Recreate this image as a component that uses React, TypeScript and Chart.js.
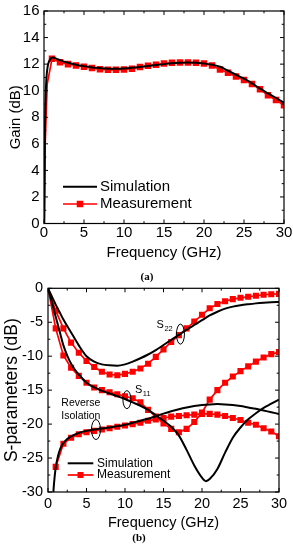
import React, { useEffect, useRef } from 'react';
import { Chart, registerables } from 'chart.js';

Chart.register(...registerables);

const SANS = '"Liberation Sans", Arial, Helvetica, sans-serif';
const RED = '#ff0000';
const BLACK = '#000000';

// ---------------- (a) Gain ----------------
const gainSimFreq = [0.03, 0.08, 0.12, 0.2, 0.3, 0.45, 0.7, 1.1, 1.6, 2, 3, 4, 5, 6, 7, 8, 9, 10, 11, 12, 13, 14, 15, 16, 17, 18, 19, 20, 21, 22, 23, 24, 25, 26, 27, 28, 29, 30];
const gainSimDb = [0, 4, 7, 9.5, 10.9, 11.8, 12.3, 12.5, 12.4, 12.3, 12.1, 11.95, 11.85, 11.75, 11.7, 11.66, 11.65, 11.67, 11.72, 11.78, 11.85, 11.93, 12.0, 12.06, 12.1, 12.12, 12.11, 12.05, 11.95, 11.8, 11.5, 11.2, 10.9, 10.55, 10.15, 9.8, 9.45, 9.1];
const gainMeasFreq = [0.03, 0.15, 0.4, 1, 2, 3, 4, 5, 6, 7, 8, 9, 10, 11, 12, 13, 14, 15, 16, 17, 18, 19, 20, 21, 22, 23, 24, 25, 26, 27, 28, 29, 30];
const gainMeasDb = [0, 6, 10.5, 12.4, 12.15, 12.0, 11.9, 11.8, 11.7, 11.62, 11.57, 11.57, 11.6, 11.66, 11.78, 11.87, 11.96, 12.04, 12.1, 12.12, 12.12, 12.1, 12.05, 11.9, 11.6, 11.35, 11.07, 10.8, 10.5, 10.1, 9.65, 9.3, 8.9];

// ---------------- (b) S-parameters ----------------
const s22SimFreq = [0, 0.5, 1, 1.5, 2, 3, 4, 5, 6, 7, 8, 9, 10, 11, 12, 13, 14, 15, 16, 17, 18, 19, 20, 21, 22, 23, 24, 25, 26, 27, 28, 29, 30];
const s22SimDb = [0, -1.2, -2.4, -3.5, -4.6, -6.5, -8.4, -10.0, -10.8, -11.2, -11.35, -11.4, -11.2, -10.8, -10.3, -9.75, -9.1, -8.35, -7.6, -6.85, -6.1, -5.4, -4.7, -4.0, -3.45, -3.0, -2.7, -2.5, -2.35, -2.22, -2.12, -2.05, -2.0];
const s11SimFreq = [0, 0.5, 1, 1.5, 2, 2.5, 3, 3.5, 4, 5, 6, 7, 8, 9, 10, 11, 12, 13, 14, 15, 16, 17, 18, 19, 20, 20.5, 21, 22, 23, 24, 25, 26, 27, 28, 29, 30];
const s11SimDb = [0, -2.0, -4.2, -6.3, -8.4, -9.9, -11.1, -12.0, -12.7, -13.9, -14.6, -15.1, -15.5, -15.9, -16.3, -16.8, -17.3, -17.9, -18.7, -19.5, -20.4, -21.7, -23.8, -26.1, -27.9, -28.4, -28.1, -26.6, -24.2, -22.0, -20.5, -19.3, -18.4, -17.6, -17.0, -16.4];
const isoSimFreq = [0.6, 0.7, 0.8, 1, 1.3, 1.6, 2, 2.5, 3, 4, 5, 6, 7, 8, 9, 10, 11, 12, 13, 14, 15, 16, 17, 18, 19, 20, 21, 22, 23, 24, 25, 26, 27, 28, 29, 30];
const isoSimDb = [-32, -30, -28.5, -26.4, -24.7, -23.6, -22.8, -22.2, -21.8, -21.3, -21.0, -20.8, -20.65, -20.5, -20.3, -20.1, -19.8, -19.5, -19.2, -18.85, -18.45, -18.1, -17.8, -17.55, -17.35, -17.2, -17.1, -17.05, -17.1, -17.2, -17.35, -17.55, -17.75, -18.0, -18.25, -18.5];

const sMeasFreq = [0, 1, 2, 3, 4, 5, 6, 7, 8, 9, 10, 11, 12, 13, 14, 15, 16, 17, 18, 19, 20, 21, 22, 23, 24, 25, 26, 27, 28, 29, 30];
const s22MeasDb = [0, -3.3, -5.9, -8.0, -9.5, -10.7, -11.6, -12.3, -12.7, -12.8, -12.6, -12.3, -11.8, -11.1, -10.1, -9.0, -7.9, -6.9, -5.9, -4.9, -3.9, -2.95, -2.3, -1.9, -1.6, -1.4, -1.25, -1.1, -0.95, -0.88, -0.82];
const s11MeasDb = [0, -5.9, -9.9, -11.7, -12.9, -13.9, -14.6, -15.0, -15.3, -15.6, -15.9, -16.2, -16.8, -17.9, -18.9, -19.9, -20.7, -21.2, -20.7, -19.7, -18.3, -16.4, -15.0, -13.9, -13.0, -12.2, -11.5, -10.8, -10.2, -9.7, -9.4];
const isoMeasFreq = [1, 2, 3, 4, 5, 6, 7, 8, 9, 10, 11, 12, 13, 14, 15, 16, 17, 18, 19, 20, 21, 22, 23, 24, 25, 26, 27, 28, 29, 30];
const isoMeasDb = [-26.3, -22.9, -22.0, -21.5, -21.2, -21.0, -20.8, -20.6, -20.4, -20.2, -20.0, -19.8, -19.5, -19.3, -19.1, -18.9, -18.8, -18.7, -18.6, -18.5, -18.5, -18.6, -18.8, -19.1, -19.4, -19.8, -20.1, -20.6, -21.1, -21.8];

// annotation anchors (data units)
const sLabels = [
  { main: 'S', sub: '22', f: 14.1, db: -5.85 },
  { main: 'S', sub: '11', f: 11.3, db: -15.35 },
];
const sTextLines = [
  { text: 'Reverse', f: 1.73, db: -17.27 },
  { text: 'Isolation', f: 1.73, db: -19.25 },
];
const sEllipses = [
  { f: 17.2, db: -6.75, rx: 4, ry: 10 },
  { f: 10.25, db: -16.4, rx: 4, ry: 9 },
  { f: 6.23, db: -20.8, rx: 4.5, ry: 10 },
];

const zip = (xs: number[], ys: number[]) => xs.map((x, i) => ({ x, y: ys[i] }));

const framePlugin = {
  id: 'frame',
  afterDraw(chart: any, _a: any, o: any) {
    const { ctx, chartArea } = chart;
    const { left, right, top, bottom } = chartArea;
    const xs = chart.scales.x;
    const ys = chart.scales.y;
    ctx.save();
    ctx.strokeStyle = '#000';
    ctx.lineWidth = 1.2;
    ctx.strokeRect(left, top, right - left, bottom - top);
    ctx.beginPath();
    ctx.lineWidth = 1;
    for (let v = xs.min; v <= xs.max + 1e-9; v += o.xMinor) {
      const major = Math.abs(v / o.xMajor - Math.round(v / o.xMajor)) < 1e-6;
      const L = major ? 4 : 2.3;
      const px = xs.getPixelForValue(v);
      ctx.moveTo(px, bottom); ctx.lineTo(px, bottom - L);
      ctx.moveTo(px, top); ctx.lineTo(px, top + L);
    }
    for (let v = ys.min; v <= ys.max + 1e-9; v += o.yMinor) {
      const major = Math.abs(v / o.yMajor - Math.round(v / o.yMajor)) < 1e-6;
      const L = major ? 4 : 2.3;
      const py = ys.getPixelForValue(v);
      ctx.moveTo(left, py); ctx.lineTo(left + L, py);
      ctx.moveTo(right, py); ctx.lineTo(right - L, py);
    }
    ctx.stroke();
    ctx.restore();
  },
};

const legendPlugin = {
  id: 'inLegend',
  afterDraw(chart: any, _a: any, o: any) {
    if (!o || !o.items) return;
    const ctx = chart.ctx;
    ctx.save();
    o.items.forEach((it: any, i: number) => {
      const y = o.y + i * o.gap;
      ctx.strokeStyle = it.color;
      ctx.lineWidth = it.width;
      ctx.beginPath(); ctx.moveTo(o.x1, y); ctx.lineTo(o.x2, y); ctx.stroke();
      if (it.marker) {
        ctx.fillStyle = it.color;
        const s = o.marker;
        ctx.fillRect((o.x1 + o.x2) / 2 - s / 2, y - s / 2, s, s);
      }
      ctx.fillStyle = '#000';
      ctx.font = `${o.size}px ${SANS}`;
      ctx.textBaseline = 'middle';
      ctx.textAlign = 'left';
      ctx.fillText(it.label, o.tx, y);
    });
    ctx.restore();
  },
};

const annotPlugin = {
  id: 'sAnnot',
  afterDatasetsDraw(chart: any, _a: any, o: any) {
    if (!o || !o.enabled) return;
    const { ctx } = chart;
    const xs = chart.scales.x;
    const ys = chart.scales.y;
    ctx.save();
    ctx.strokeStyle = '#000';
    ctx.fillStyle = '#000';
    ctx.lineWidth = 1;
    sEllipses.forEach((e) => {
      ctx.beginPath();
      ctx.ellipse(xs.getPixelForValue(e.f), ys.getPixelForValue(e.db), e.rx, e.ry, 0, 0, Math.PI * 2);
      ctx.stroke();
    });
    ctx.textAlign = 'left';
    ctx.textBaseline = 'alphabetic';
    sLabels.forEach((l) => {
      const x = xs.getPixelForValue(l.f);
      const y = ys.getPixelForValue(l.db);
      ctx.font = `11px ${SANS}`;
      ctx.fillText(l.main, x, y);
      const w = ctx.measureText(l.main).width;
      ctx.font = `7.5px ${SANS}`;
      ctx.fillText(l.sub, x + w + 0.5, y + 3);
    });
    ctx.font = `10.5px ${SANS}`;
    sTextLines.forEach((t) => {
      ctx.fillText(t.text, xs.getPixelForValue(t.f), ys.getPixelForValue(t.db));
    });
    ctx.restore();
  },
};

function makeScales(p: any) {
  return {
    x: {
      type: 'linear',
      min: 0,
      max: 30,
      grid: { display: false, drawTicks: false },
      border: { display: false },
      ticks: { stepSize: 5, color: '#000', font: { family: SANS, size: p.tick }, padding: p.xPad, maxRotation: 0, autoSkip: false },
      title: { display: true, text: 'Frequency (GHz)', color: '#000', font: { family: SANS, size: p.xTitle }, padding: { top: 0, bottom: p.xTitlePad } },
      afterFit: (s: any) => { s.height = p.xH; s.paddingLeft = 0; s.paddingRight = 0; },
    },
    y: {
      type: 'linear',
      min: p.yMin,
      max: p.yMax,
      grid: { display: false, drawTicks: false },
      border: { display: false },
      ticks: { stepSize: p.yStep, color: '#000', font: { family: SANS, size: p.tick }, padding: p.yPad, autoSkip: false },
      title: { display: true, text: p.yTitleText, color: '#000', font: { family: SANS, size: p.yTitle }, padding: { top: p.yTitlePad, bottom: 0 } },
      afterFit: (s: any) => { s.width = p.yW; s.paddingTop = 0; s.paddingBottom = 0; },
    },
  };
}

const simLine = (label: string, data: any) => ({
  label,
  data,
  borderColor: BLACK,
  backgroundColor: BLACK,
  borderWidth: 2,
  pointRadius: 0,
  cubicInterpolationMode: 'monotone',
  fill: false,
});

const measLine = (label: string, data: any, r: number) => ({
  label,
  data,
  borderColor: RED,
  backgroundColor: RED,
  borderWidth: 1.7,
  pointStyle: 'rect',
  pointRadius: (c: any) => (c.raw && c.raw.x < 0.5 ? 0 : r),
  pointBorderWidth: 0,
  pointBackgroundColor: RED,
  tension: 0,
  fill: false,
});

export default function App() {
  const refA = useRef<HTMLCanvasElement>(null);
  const refB = useRef<HTMLCanvasElement>(null);

  useEffect(() => {
    const chartA = new Chart(refA.current as HTMLCanvasElement, {
      type: 'line',
      data: {
        datasets: [
          simLine('Simulation', zip(gainSimFreq, gainSimDb)),
          measLine('Measurement', zip(gainMeasFreq, gainMeasDb), 4.6),
        ] as any,
      },
      options: {
        responsive: false,
        animation: false,
        devicePixelRatio: 1,
        layout: { padding: { top: 11, right: 9, left: 0, bottom: 0 } },
        scales: makeScales({ tick: 15, xPad: 0, xTitle: 15, xTitlePad: 7.7, xH: 46.5, yMin: 0, yMax: 16, yStep: 2, yPad: 4.5, yTitleText: 'Gain (dB)', yTitle: 15, yTitlePad: 7, yW: 44 }) as any,
        plugins: {
          legend: { display: false },
          tooltip: { enabled: false },
          frame: { xMajor: 5, xMinor: 2.5, yMajor: 2, yMinor: 1 },
          inLegend: {
            x1: 63, x2: 97, tx: 100, y: 186.7, gap: 17.3, size: 15, marker: 6.5,
            items: [
              { label: 'Simulation', color: BLACK, width: 2, marker: false },
              { label: 'Measurement', color: RED, width: 1.7, marker: true },
            ],
          },
        } as any,
      },
      plugins: [framePlugin, legendPlugin],
    });

    const chartB = new Chart(refB.current as HTMLCanvasElement, {
      type: 'line',
      data: {
        datasets: [
          simLine('S22 Simulation', zip(s22SimFreq, s22SimDb)),
          simLine('S11 Simulation', zip(s11SimFreq, s11SimDb)),
          simLine('Reverse Isolation Simulation', zip(isoSimFreq, isoSimDb)),
          measLine('S22 Measurement', zip(sMeasFreq, s22MeasDb), 4.3),
          measLine('S11 Measurement', zip(sMeasFreq, s11MeasDb), 4.3),
          measLine('Reverse Isolation Measurement', zip(isoMeasFreq, isoMeasDb), 4.3),
        ] as any,
      },
      options: {
        responsive: false,
        animation: false,
        devicePixelRatio: 1,
        layout: { padding: { top: 18.3, right: 14, left: 0, bottom: 0 } },
        scales: makeScales({ tick: 14.5, xPad: 3, xTitle: 14.5, xTitlePad: 18.6, xH: 58, yMin: -30, yMax: 0, yStep: 5, yPad: 5, yTitleText: 'S-parameters (dB)', yTitle: 17.5, yTitlePad: 1.2, yW: 48 }) as any,
        plugins: {
          legend: { display: false },
          tooltip: { enabled: false },
          frame: { xMajor: 5, xMinor: 2.5, yMajor: 5, yMinor: 2.5 },
          sAnnot: { enabled: true },
          inLegend: {
            x1: 67.7, x2: 93.3, tx: 97, y: 193.3, gap: 11.7, size: 12, marker: 6,
            items: [
              { label: 'Simulation', color: BLACK, width: 2, marker: false },
              { label: 'Measurement', color: RED, width: 1.7, marker: true },
            ],
          },
        } as any,
      },
      plugins: [framePlugin, legendPlugin, annotPlugin],
    });

    return () => {
      chartA.destroy();
      chartB.destroy();
    };
  }, []);

  const cap: React.CSSProperties = {
    position: 'absolute',
    transform: 'translate(-50%, -50%)',
    font: 'bold 11px "Liberation Serif", "DejaVu Serif", serif',
    lineHeight: '1',
    color: '#000',
    whiteSpace: 'nowrap',
  };

  return (
    <div style={{ position: 'fixed', left: 0, top: 0, width: 293, height: 550, background: '#fff', overflow: 'hidden' }}>
      <canvas ref={refA} width={293} height={270} style={{ position: 'absolute', left: 0, top: 0, width: 293, height: 270 }} />
      <canvas ref={refB} width={293} height={280} style={{ position: 'absolute', left: 0, top: 270, width: 293, height: 280 }} />
      <div style={{ ...cap, left: 147, top: 275.7 }}>(a)</div>
      <div style={{ ...cap, left: 139, top: 536.7 }}>(b)</div>
    </div>
  );
}
